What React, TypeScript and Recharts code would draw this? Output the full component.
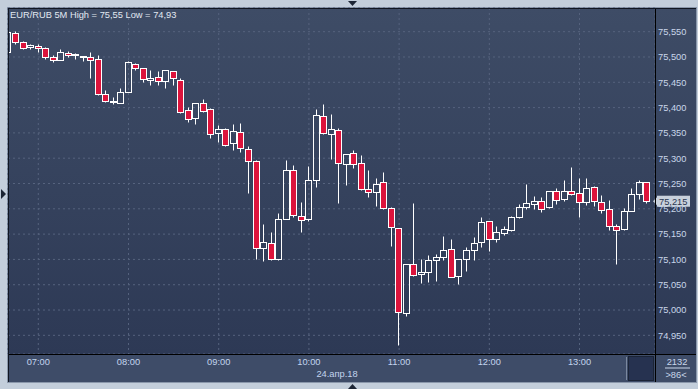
import React from 'react';
import { ComposedChart, Bar, XAxis, YAxis, CartesianGrid, ReferenceLine } from 'recharts';

// 5-minute candles, slot 0 = 07:00 (first candle at 06:40)
const firstSlot = -4;
const opens = [
  75.509, 75.547, 75.529, 75.520, 75.522, 75.517, 75.500, 75.495, 75.507, 75.503,
  75.499, 75.500, 75.497, 75.426, 75.412, 75.410, 75.430, 75.486, 75.478, 75.455,
  75.460, 75.453, 75.472, 75.454, 75.395, 75.379, 75.409, 75.397, 75.349, 75.357,
  75.330, 75.351, 75.318, 75.294, 75.122, 75.132, 75.100, 75.180, 75.276, 75.185,
  75.179, 75.256, 75.383, 75.347, 75.355, 75.289, 75.310, 75.290, 75.239, 75.233,
  75.252, 75.201, 75.162, 74.994, 75.090, 75.071, 75.076, 75.098, 75.105, 75.120,
  75.067, 75.100, 75.119, 75.134, 75.175, 75.141, 75.152, 75.158, 75.183, 75.203,
  75.210, 75.216, 75.203, 75.235, 75.219, 75.235, 75.231, 75.213, 75.244, 75.213,
  75.199, 75.166, 75.160, 75.196, 75.229, 75.252,
];
const highs = [
  75.551, 75.551, 75.532, 75.525, 75.525, 75.520, 75.504, 75.516, 75.512, 75.508,
  75.502, 75.509, 75.504, 75.434, 75.421, 75.438, 75.492, 75.489, 75.479, 75.474,
  75.472, 75.474, 75.472, 75.458, 75.401, 75.410, 75.417, 75.399, 75.366, 75.359,
  75.367, 75.369, 75.324, 75.297, 75.170, 75.155, 75.192, 75.297, 75.287, 75.214,
  75.285, 75.397, 75.407, 75.387, 75.359, 75.308, 75.316, 75.306, 75.277, 75.260,
  75.273, 75.203, 75.163, 75.091, 75.212, 75.101, 75.109, 75.110, 75.146, 75.140,
  75.100, 75.124, 75.145, 75.183, 75.176, 75.166, 75.166, 75.186, 75.210, 75.249,
  75.225, 75.223, 75.235, 75.242, 75.256, 75.282, 75.260, 75.260, 75.245, 75.227,
  75.217, 75.170, 75.201, 75.242, 75.257, 75.253,
];
const lows = [
  75.508, 75.526, 75.515, 75.516, 75.510, 75.497, 75.491, 75.495, 75.499, 75.496,
  75.493, 75.458, 75.425, 75.412, 75.408, 75.409, 75.430, 75.475, 75.450, 75.445,
  75.445, 75.439, 75.445, 75.390, 75.372, 75.368, 75.392, 75.339, 75.333, 75.325,
  75.317, 75.312, 75.232, 75.100, 75.096, 75.098, 75.099, 75.179, 75.184, 75.155,
  75.175, 75.244, 75.347, 75.298, 75.212, 75.248, 75.281, 75.238, 75.224, 75.206,
  75.200, 75.127, 74.930, 74.989, 75.068, 75.054, 75.056, 75.058, 75.099, 75.065,
  75.052, 75.078, 75.099, 75.125, 75.117, 75.135, 75.148, 75.157, 75.182, 75.200,
  75.200, 75.194, 75.202, 75.210, 75.216, 75.227, 75.184, 75.208, 75.206, 75.191,
  75.158, 75.090, 75.158, 75.195, 75.220, 75.211,
];
const closes = [
  75.549, 75.530, 75.518, 75.524, 75.517, 75.499, 75.495, 75.509, 75.503, 75.505,
  75.502, 75.495, 75.426, 75.414, 75.413, 75.430, 75.490, 75.479, 75.456, 75.458,
  75.452, 75.474, 75.458, 75.392, 75.377, 75.409, 75.394, 75.347, 75.357, 75.327,
  75.354, 75.320, 75.294, 75.122, 75.134, 75.100, 75.179, 75.276, 75.187, 75.177,
  75.256, 75.385, 75.349, 75.357, 75.290, 75.308, 75.288, 75.240, 75.233, 75.250,
  75.201, 75.164, 74.996, 75.090, 75.069, 75.075, 75.099, 75.104, 75.119, 75.066,
  75.100, 75.119, 75.132, 75.173, 75.141, 75.154, 75.160, 75.183, 75.203, 75.211,
  75.215, 75.200, 75.235, 75.217, 75.235, 75.229, 75.213, 75.242, 75.215, 75.198,
  75.167, 75.158, 75.196, 75.229, 75.252, 75.215,
];

const timeTicks = [0, 12, 24, 36, 48, 60, 72];
const timeLabels = ['07:00', '08:00', '09:00', '10:00', '11:00', '12:00', '13:00'];
const priceTicks = [74.95, 75.0, 75.05, 75.1, 75.15, 75.2, 75.25, 75.3, 75.35, 75.4, 75.45, 75.5, 75.55];
const title = 'EUR/RUB 5M High = 75,55 Low = 74,93';
const dateLabel = '24.апр.18';
const counterLabel = '2132';

const data = opens.map((o, i) => ({
  slot: firstSlot + i,
  open: o,
  high: highs[i],
  low: lows[i],
  close: closes[i],
  range: [lows[i], highs[i]],
}));

const FONT = '"Liberation Sans", Arial, sans-serif';
const RED = '#dc143c';

const fmtPrice = (v: number) => v.toFixed(3).replace('.', ',');

const Candle = (props: any) => {
  const { x, y, width, height, payload } = props;
  if (x == null || y == null || !payload) return null;
  const top = Math.min(y, y + height);
  const h = Math.abs(height);
  const { open, close, high, low } = payload;
  const s = h / (high - low || 1);
  const cx = Math.floor(x + width / 2) + 0.5;
  const yHigh = Math.round(top) + 0.5;
  const yLow = Math.round(top + h) + 0.5;
  const bt = Math.round(top + (high - Math.max(open, close)) * s) + 0.5;
  let bb = Math.round(top + (high - Math.min(open, close)) * s) + 0.5;
  const up = close >= open;
  const hw = 3;
  return (
    <g>
      {bt > yHigh && <line x1={cx} x2={cx} y1={yHigh} y2={bt} stroke="#ffffff" strokeWidth={1} />}
      {yLow > bb && <line x1={cx} x2={cx} y1={bb} y2={yLow} stroke="#ffffff" strokeWidth={1} />}
      {bb - bt < 1 ? (
        <line x1={cx - hw} x2={cx + hw} y1={bt} y2={bt} stroke="#ffffff" strokeWidth={1} />
      ) : (
        <rect x={cx - hw} y={bt} width={hw * 2} height={bb - bt} fill={up ? 'none' : RED} stroke="#ffffff" strokeWidth={1} />
      )}
    </g>
  );
};

const PriceTag = (props: any) => {
  const vb = props.viewBox || {};
  const xr = (vb.x || 0) + (vb.width || 0);
  const yc = vb.y || 0;
  return (
    <g>
      <polygon points={`${xr - 2},${yc} ${xr + 2},${yc - 4} ${xr + 2},${yc + 4}`} fill="#c9d1dc" />
      <rect x={xr + 2} y={yc - 5.5} width={33} height={11} fill="#c9d1dc" />
      <text x={xr + 4} y={yc} dy="0.355em" fontSize={9.3} fontFamily={FONT} fill="#2a3550">
        {fmtPrice(closes[closes.length - 1])}
      </text>
    </g>
  );
};

export default function App() {
  return (
    <div style={{ position: 'absolute', left: 0, top: 0, width: 698, height: 389, background: '#c3cedb', overflow: 'hidden' }}>
      {/* chart panel */}
      <div style={{ position: 'absolute', left: 7, top: 7, width: 690, height: 376, background: '#8a97ab' }} />
      <div style={{ position: 'absolute', left: 8, top: 8, width: 688, height: 346, background: 'linear-gradient(#3e4c66, #2d3955)' }} />
      <div style={{ position: 'absolute', left: 8, top: 354, width: 688, height: 28, background: '#3e4c68' }} />
      <div style={{ position: 'absolute', left: 628, top: 356, width: 26, height: 25, background: '#263250', border: '1px solid #1b2436', boxSizing: 'border-box' }} />
      <div style={{ position: 'absolute', left: 626, top: 357, width: 1, height: 23, background: '#7b889e' }} />
      <div style={{ position: 'absolute', left: 0, top: 0 }}>
        <ComposedChart width={698} height={389} data={data} margin={{ top: 8, left: 8, right: 2, bottom: 8 }}>
          <CartesianGrid stroke="#56637e" strokeDasharray="2 3" horizontal vertical />
          <XAxis
            dataKey="slot"
            type="number"
            domain={[-4.03, 82.04]}
            allowDataOverflow
            ticks={timeTicks}
            tickFormatter={(v: number) => timeLabels[timeTicks.indexOf(v)] ?? ''}
            height={27}
            axisLine={false}
            tickLine={false}
            tickSize={0}
            tickMargin={4.5}
            tick={{ fill: '#c3d4ee', fontSize: 9.3, fontFamily: FONT }}
          />
          <YAxis
            orientation="right"
            type="number"
            domain={[74.9131, 75.5968]}
            allowDataOverflow
            ticks={priceTicks}
            tickFormatter={fmtPrice}
            width={41}
            axisLine={false}
            tickLine={false}
            tickSize={0}
            tickMargin={3}
            tick={{ fill: '#c9d6ea', fontSize: 9.3, fontFamily: FONT, textAnchor: 'start' }}
          />
          <Bar dataKey="range" barSize={7} shape={<Candle />} isAnimationActive={false} />
          <ReferenceLine y={closes[closes.length - 1]} stroke="none" label={<PriceTag />} />
        </ComposedChart>
      </div>
      <svg width={698} height={389} style={{ position: 'absolute', left: 0, top: 0, pointerEvents: 'none' }}>
        <line x1={8} x2={696} y1={354.5} y2={354.5} stroke="#000000" strokeWidth={1} />
        <line x1={655.5} x2={655.5} y1={8} y2={382} stroke="#000000" strokeWidth={1} />
        <line x1={8.5} x2={8.5} y1={8} y2={382} stroke="#101622" strokeWidth={1} />
        <line x1={8} x2={696} y1={8.5} y2={8.5} stroke="#101622" strokeWidth={1} />
        <text x={10} y={18} fontSize={9.3} fontFamily={FONT} fill="#e2e9f2">{title}</text>
        <text x={337} y={377} fontSize={9.3} fontFamily={FONT} fill="#c3d4ee" textAnchor="middle">{dateLabel}</text>
        <text x={677} y={364.5} fontSize={9.3} fontFamily={FONT} fill="#c9d6ea" textAnchor="middle">{counterLabel}</text>
        <line x1={665} x2={690} y1={368} y2={368} stroke="#c9d6ea" strokeWidth={1} />
        <text x={676} y={378} fontSize={9.3} fontFamily={FONT} fill="#c9d6ea" textAnchor="middle">{`>${data.length}<`}</text>
        <polygon points="348,1 357,1 352.5,6" fill="#1c2535" />
        <polygon points="1,189 1,199 6,194" fill="#1c2535" />
        <polygon points="348,389 357,389 352.5,384" fill="#1c2535" />
      </svg>
    </div>
  );
}
